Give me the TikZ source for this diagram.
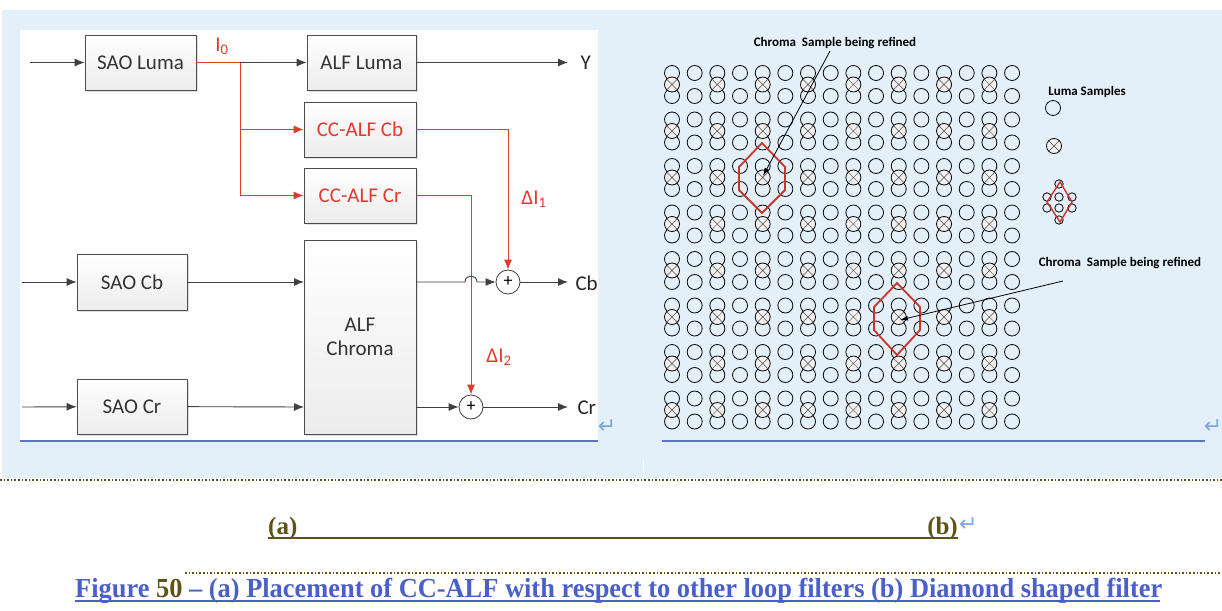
\documentclass[tikz,border=0pt]{standalone}
\usepackage{fontspec}
\setmainfont{Carlito}
\newfontfamily\capfont{Liberation Serif}
\newfontfamily\symfont{DejaVu Sans}
\usetikzlibrary{shadows,arrows.meta,calc}
\definecolor{bgblue}{HTML}{E3EFF9}
\definecolor{ccred}{HTML}{E23A2C}
\definecolor{lineblue}{HTML}{5B73C9}
\definecolor{olive}{HTML}{5E5316}
\definecolor{capblue}{HTML}{4A5FC8}
\definecolor{retblue}{HTML}{7FA8E0}
\tikzset{
  blk/.style={draw=gray!60!black,line width=0.8pt,top color=white,bottom color=gray!15,
    drop shadow={shadow xshift=1.5pt,shadow yshift=-1.5pt,opacity=0.25},
    font=\fontsize{21}{24}\selectfont,text=black!80,align=center},
  redblk/.style={blk,text=ccred},
  arr/.style={draw=black!75,line width=0.9pt,-{Latex[length=10pt,width=8pt]}},
  rarr/.style={draw=ccred,line width=0.9pt,-{Latex[length=10pt,width=8pt]}},
  rline/.style={draw=ccred,line width=0.9pt},
  plus/.style={circle,draw=black!75,line width=0.8pt,fill=white,minimum size=24pt,inner sep=0pt,font=\fontsize{18}{18}\selectfont},
  lab/.style={font=\fontsize{21}{23}\selectfont,text=black!85},
  rlab/.style={font=\fontsize{21}{23}\selectfont,text=ccred},
  smp/.style={draw=black,line width=0.8pt},
  xsmp/.style={draw=black,line width=0.8pt,fill=gray!12},
  note/.style={font=\bfseries\fontsize{13}{15}\selectfont},
  hexa/.style={draw=ccred!90!black,line width=1.8pt,line join=miter},
  ret/.style={font=\symfont\fontsize{22}{22}\selectfont,text=retblue}
}
\newcommand{\xsample}[3]{%
  \draw[xsmp] (#1,#2) circle[radius=#3];
  \draw[black!70,line width=0.5pt] ($(#1,#2)+(-0.7*#3,-0.7*#3)$) -- ($(#1,#2)+(0.7*#3,0.7*#3)$)
     ($(#1,#2)+(-0.7*#3,0.7*#3)$) -- ($(#1,#2)+(0.7*#3,-0.7*#3)$);}
\begin{document}
\begin{tikzpicture}[x=1pt,y=-1pt]
\useasboundingbox (0,0) rectangle (1222,610);
\fill[bgblue] (2,10) rectangle (1222,478);
\fill[white] (20,30) rectangle (598,440);
\draw[lineblue,line width=1.5pt] (20,441) -- (598,441);
\draw[lineblue,line width=1.5pt] (662,441) -- (1205,441);
\draw[white,line width=0.6pt] (643,460) -- (643,476);
\node[ret] at (607,427) {↵};
\node[ret] at (1213,427) {↵};

% ---- left block diagram ----
\node[blk,minimum width=111pt,minimum height=55pt] (saol) at (140.5,62.5) {SAO Luma};
\node[blk,minimum width=109pt,minimum height=55pt] (alfl) at (361.5,62.5) {ALF Luma};
\node[redblk,minimum width=112pt,minimum height=55pt] (ccb) at (360,129.5) {CC-ALF Cb};
\node[redblk,minimum width=112pt,minimum height=55pt] (ccr) at (360,195.5) {CC-ALF Cr};
\node[blk,minimum width=110pt,minimum height=56pt] (saocb) at (132,282) {SAO Cb};
\node[blk,minimum width=112pt,minimum height=194pt] (alfc) at (360,337) {ALF\\Chroma};
\node[blk,minimum width=110pt,minimum height=55pt] (saocr) at (132,406.5) {SAO Cr};
\node[plus] (pcb) at (508,282) {+};
\node[plus] (pcr) at (471,407) {+};

\coordinate (inl) at (30,62.5);
\coordinate (br) at (240,62.5);
\coordinate (brb) at (240,129.5);
\coordinate (brr) at (240,195.5);
\coordinate (yout) at (568,62.5);
\coordinate (incb) at (22,282);
\coordinate (incr) at (22,407);
\coordinate (acbi) at (304,282);
\coordinate (acri) at (304,407);
\coordinate (acbo) at (416,282);
\coordinate (acro) at (416,407);
\coordinate (hop1) at (465,282);
\coordinate (hop2) at (477,282);
\coordinate (cbout) at (568,282);
\coordinate (crout) at (568,407);

\draw[arr] (inl) -- (saol);
\draw[rline] (saol.east) -- (br);
\draw[arr] (br) -- (alfl);
\draw[rline] (br) -- (brr);
\draw[rarr] (brb) -- (ccb);
\draw[rarr] (brr) -- (ccr);
\draw[arr] (alfl) -- (yout);
\draw[rarr] (ccb.east) -| (pcb.north);
\draw[rarr] (ccr.east) -| (pcr.north);
\draw[arr] (incb) -- (saocb);
\draw[arr] (saocb) -- (acbi);
\draw[arr] (incr) -- (saocr);
\draw[arr] (saocr) -- (acri);
\draw[arr] (acbo) -- (hop1) .. controls ($(hop1)+(0,-8)$) and ($(hop2)+(0,-8)$) .. (hop2) -- (pcb);
\draw[arr] (acro) -- (pcr);
\draw[arr] (pcb) -- (cbout);
\draw[arr] (pcr) -- (crout);

\node[lab,anchor=west] (ylab) at (577,62.5) {Y};
\node[lab,anchor=west] (cblab) at (572,283) {Cb};
\node[lab,anchor=west] (crlab) at (574,408) {Cr};
\node[rlab] (i0) at (222,46) {I\textsubscript{0}};
\node[rlab] (d1) at (534,199) {ΔI\textsubscript{1}};
\node[rlab] (d2) at (499,357) {ΔI\textsubscript{2}};

% ---- right sample grid ----
\foreach \g in {0,...,7}{
  \foreach \c in {0,...,15}{
    \pgfmathsetmacro\xx{672+22.67*\c}
    \pgfmathsetmacro\yy{73+46.5*\g}
    \draw[smp] (\xx,\yy) circle[radius=7.5pt];
    \draw[smp] (\xx,\yy+23) circle[radius=7.5pt];
  }
  \foreach \c in {0,2,...,14}{
    \pgfmathsetmacro\xx{672+22.67*\c}
    \pgfmathsetmacro\yy{84.5+46.5*\g}
    \xsample{\xx}{\yy}{7.5pt}
  }
}
\draw[hexa] (762,143) -- (785,167) -- (785,190) -- (762,213) -- (739,190) -- (739,167) -- cycle;
\draw[hexa] (897,283) -- (920,307) -- (920,330) -- (897,355) -- (874,330) -- (874,307) -- cycle;

\node[note] (n1) at (835,43) {Chroma\ \ Sample being refined};
\node[note] (n2) at (1120,263) {Chroma\ \ Sample being refined};
\coordinate (t1) at (763,176);
\coordinate (t2) at (900,320);
\draw[line width=0.8pt,-{Latex[length=8pt,width=5pt]}] (830,51) -- (t1);
\draw[line width=0.8pt,-{Latex[length=8pt,width=5pt]}] (1063,281) -- (t2);

% legend
\node[note] (n3) at (1087,92) {Luma Samples};
\draw[smp] (1053,108) circle[radius=7.5pt];
\xsample{1054}{146}{7.5pt}
\foreach \p in {(1059,184),(1047,197),(1059,197),(1072,197),(1047,208),(1059,208),(1072,208),(1059,220)}
  \draw[smp] \p circle[radius=4.2pt];
\draw[hexa,line width=1.4pt] (1060,182) -- (1072,202) -- (1060,222) -- (1047,202) -- cycle;

% ---- captions ----
\draw[olive,line width=1.6pt,dotted] (0,480) -- (1222,480);
\node[font=\capfont\bfseries\fontsize{25}{27}\selectfont,text=olive,anchor=base west,inner sep=0pt] (a) at (268,534) {(a)};
\node[font=\capfont\bfseries\fontsize{25}{27}\selectfont,text=olive,anchor=base east,inner sep=0pt] (b) at (958,534) {(b)};
\draw[olive,line width=1.8pt] (268,538) -- (958,538);
\node[ret,anchor=base west,inner sep=0pt] at (959,531) {↵};
\draw[olive,line width=1.6pt,dotted] (185,573) -- (1222,573);
\node[font=\capfont\bfseries\fontsize{27.5}{30}\selectfont,text=capblue,anchor=base west,inner sep=0pt,xscale=0.96] (cap) at (75,597)
  {Figure \textcolor{olive}{50} – (a) Placement of CC-ALF with respect to other loop filters (b) Diamond shaped filter};
\draw[capblue,line width=1.4pt] (75,601) -- (1160,601);
\end{tikzpicture}
\end{document}
